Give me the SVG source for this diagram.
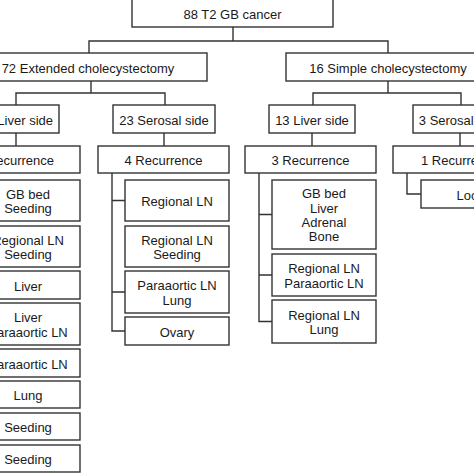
<svg xmlns="http://www.w3.org/2000/svg" width="474" height="474" viewBox="0 0 474 474">
<style>
rect{fill:#fff;stroke:#333;stroke-width:1.4}
text{font-family:"Liberation Sans",Arial,sans-serif;font-size:13px;fill:#1a1a1a;text-anchor:middle}
.e{text-anchor:end}
#connectors path{fill:none;stroke:#333;stroke-width:1.4}
</style>
<rect x="0" y="0" width="474" height="474" style="fill:#fff;stroke:none"/>
<g id="connectors">
<path d="M233 27V41M89 53V41H388V53"/>
<path d="M91 81V93M16 105V93H165V105"/>
<path d="M388 81V93M313 105V93H461V105"/>
<path d="M16 133V146M164 133V146M312 133V146M460 133V146"/>
<path d="M112 173V331H125M112 200.5H125M112 292H125"/>
<path d="M259 173V321.5H272M259 214.5H272M259 275H272"/>
<path d="M407 173V194H421"/>
</g>
<g id="n_root"><rect x="132" y="-2" width="201" height="29"/><text x="232.5" y="18.5">88 T2 GB cancer</text></g>
<g id="n_ext"><rect x="-29" y="53" width="236" height="28"/><text x="88" y="72.5">72 Extended cholecystectomy</text></g>
<g id="n_simple"><rect x="286" y="53" width="204" height="28"/><text x="388" y="72.5">16 Simple cholecystectomy</text></g>
<g id="n_ext_liver"><rect x="-27" y="105" width="86" height="28"/><text class="e" x="53" y="124.5">Liver side</text></g>
<g id="n_ext_serosal"><rect x="113" y="105" width="102" height="28"/><text x="164" y="124.5">23 Serosal side</text></g>
<g id="n_simple_liver"><rect x="269" y="105" width="86" height="28"/><text x="312" y="124.5">13 Liver side</text></g>
<g id="n_simple_serosal"><rect x="413" y="105" width="94" height="28"/><text x="460" y="124.5">3 Serosal side</text></g>
<g id="n_rec1"><rect x="-51" y="146" width="131" height="27"/><text class="e" x="54" y="165">Recurrence</text></g>
<g id="n_rec2"><rect x="98" y="146" width="131" height="27"/><text x="163.5" y="165">4 Recurrence</text></g>
<g id="n_rec3"><rect x="245" y="146" width="131" height="27"/><text x="310.5" y="165">3 Recurrence</text></g>
<g id="n_rec4"><rect x="393" y="146" width="131" height="27"/><text x="460" y="165">1 Recurrence</text></g>
<g id="n_l1"><rect x="-24" y="180" width="104" height="41"/><text x="28" y="198.8">GB bed</text><text x="28" y="213.2">Seeding</text></g>
<g id="n_l2"><rect x="-24" y="226" width="104" height="41"/><text x="28" y="244.8">Regional LN</text><text x="28" y="259.2">Seeding</text></g>
<g id="n_l3"><rect x="-24" y="271" width="104" height="28"/><text x="28" y="290.5">Liver</text></g>
<g id="n_l4"><rect x="-24" y="303" width="104" height="42"/><text x="28" y="322.3">Liver</text><text x="28" y="336.7">Paraaortic LN</text></g>
<g id="n_l5"><rect x="-24" y="349" width="104" height="28"/><text x="28" y="368.5">Paraaortic LN</text></g>
<g id="n_l6"><rect x="-24" y="381" width="104" height="27"/><text x="28" y="400">Lung</text></g>
<g id="n_l7"><rect x="-24" y="413" width="104" height="27"/><text x="28" y="432">Seeding</text></g>
<g id="n_l8"><rect x="-24" y="445" width="104" height="27"/><text x="28" y="464">Seeding</text></g>
<g id="n_s1"><rect x="125" y="180" width="104" height="41"/><text x="177" y="206">Regional LN</text></g>
<g id="n_s2"><rect x="125" y="226" width="104" height="41"/><text x="177" y="244.8">Regional LN</text><text x="177" y="259.2">Seeding</text></g>
<g id="n_s3"><rect x="125" y="271" width="104" height="42"/><text x="177" y="290.3">Paraaortic LN</text><text x="177" y="304.7">Lung</text></g>
<g id="n_s4"><rect x="125" y="317" width="104" height="28"/><text x="177" y="336.5">Ovary</text></g>
<g id="n_r1"><rect x="272" y="180" width="104" height="69"/><text x="324" y="198.1">GB bed</text><text x="324" y="212.5">Liver</text><text x="324" y="226.9">Adrenal</text><text x="324" y="241.3">Bone</text></g>
<g id="n_r2"><rect x="272" y="254" width="104" height="42"/><text x="324" y="273.3">Regional LN</text><text x="324" y="287.7">Paraaortic LN</text></g>
<g id="n_r3"><rect x="272" y="300" width="104" height="43"/><text x="324" y="319.8">Regional LN</text><text x="324" y="334.2">Lung</text></g>
<g id="n_local"><rect x="421" y="180" width="102" height="28"/><text x="472" y="199.5">Local</text></g>
</svg>
